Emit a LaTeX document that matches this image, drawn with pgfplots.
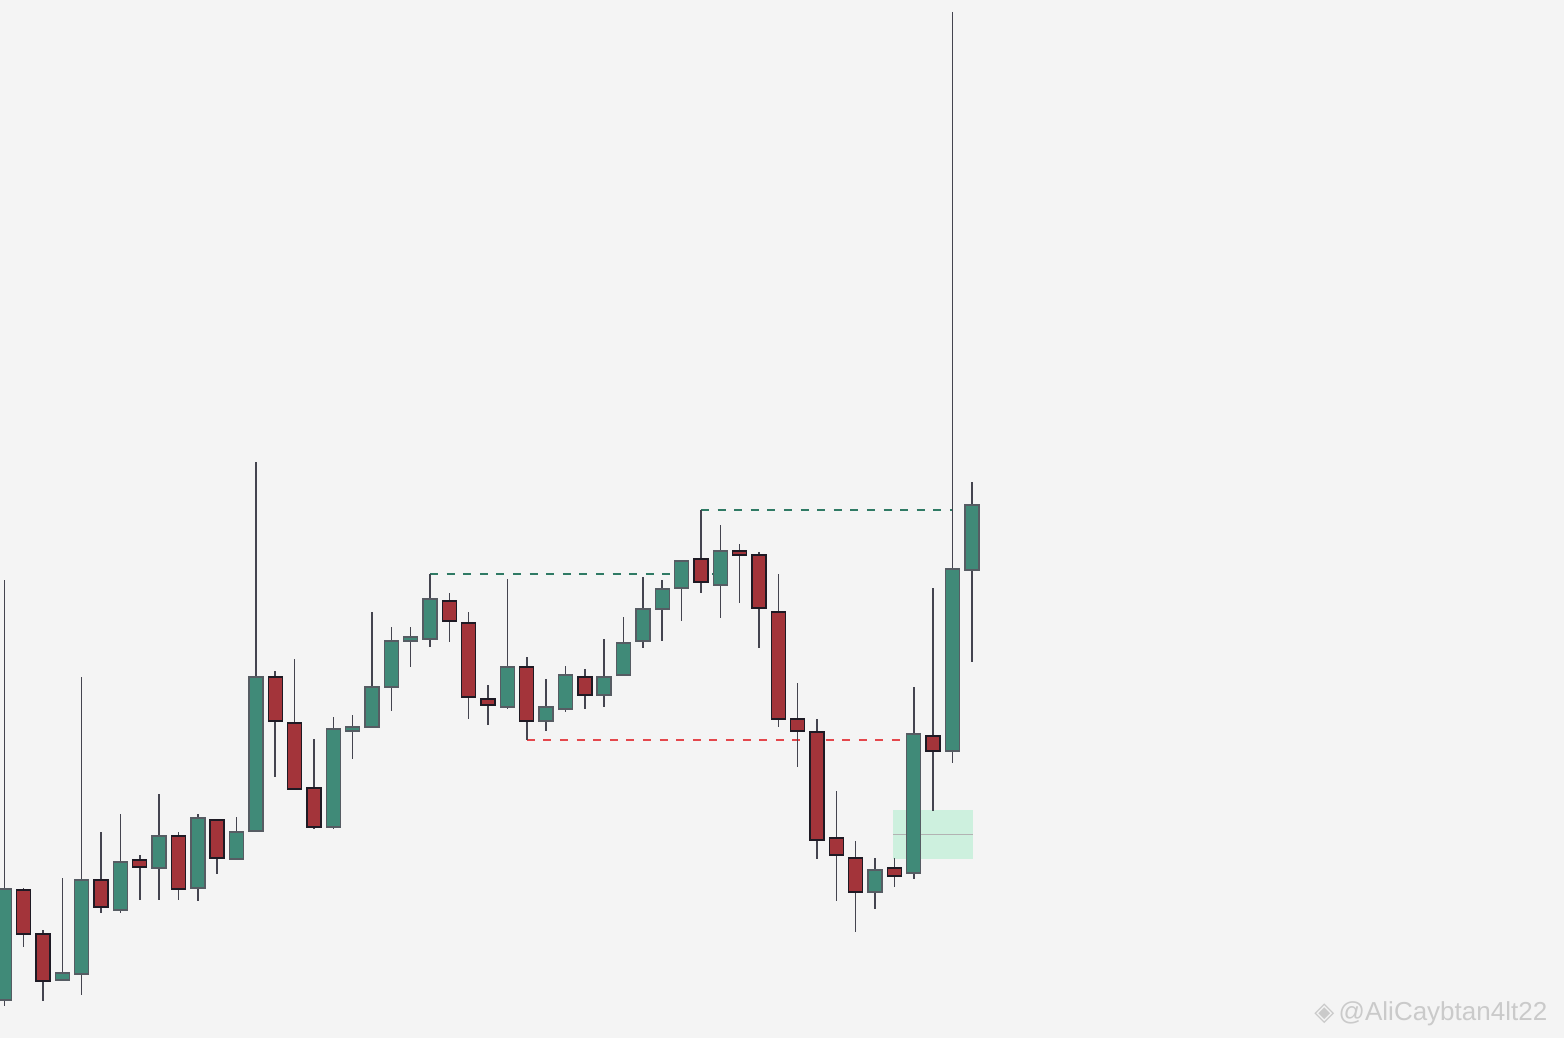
\documentclass[border=0pt]{standalone}
\usepackage{pgfplots}
\pgfplotsset{compat=1.18}
\usepackage{fontspec}
\setmainfont{Liberation Sans}
\newfontfamily\djv{DejaVu Sans}
\definecolor{bgc}{HTML}{F4F4F4}
\definecolor{gfill}{HTML}{408A78}
\definecolor{rfill}{HTML}{A3343A}
\definecolor{gedge}{HTML}{565C63}
\definecolor{redge}{HTML}{1E1A24}
\definecolor{wickc}{HTML}{44444F}
\definecolor{gdash}{HTML}{2F7A64}
\definecolor{rdash}{HTML}{E4474C}
\definecolor{zone}{HTML}{CDF0DE}
\definecolor{wm}{HTML}{CACACA}
\pgfplotsset{
  wick/.style={draw=wickc, line width=0.75pt, no markers},
  bodyg/.style={fill=gfill, draw=gedge, line width=0.7pt, no markers},
  bodyr/.style={fill=rfill, draw=redge, line width=0.7pt, no markers},
}
% x high low top bottom g/r
\newcommand\candle[6]{%
  \pgfmathsetmacro\xa{#1-7}\pgfmathsetmacro\xb{#1+7}%
  \edef\tmp{\noexpand\addplot[wick] coordinates {(#1,#2)(#1,#3)};
    \noexpand\addplot[body#6] coordinates {(\xa,#4)(\xb,#4)(\xb,#5)(\xa,#5)} -- cycle;}%
  \tmp}
\begin{document}
\begin{tikzpicture}
\fill[bgc] (0,0) rectangle (782pt,519pt);
\begin{axis}[
  at={(0,0)}, anchor=south west,
  width=782pt, height=519pt, scale only axis,
  xmin=0, xmax=1564, ymin=0, ymax=1038, y dir=reverse,
  hide axis, clip=true,
]
% demand zone
\addplot[fill=zone, draw=none, no markers] coordinates {(893,810)(973,810)(973,859)(893,859)} -- cycle;
\addplot[draw=black!30, line width=0.45pt, no markers] coordinates {(893,834)(973,834)};
% dashed levels
\addplot[draw=gdash, line width=0.6pt, dash pattern=on 4pt off 4.3pt, no markers] coordinates {(430,574)(720,574)};
\addplot[draw=gdash, line width=0.6pt, dash pattern=on 4pt off 4.3pt, no markers] coordinates {(700.9,510)(952.45,510)};
\addplot[draw=rdash, line width=0.6pt, dash pattern=on 4pt off 4.3pt, no markers] coordinates {(526.75,740)(933,740)};
% candles
\candle{4.3}{580}{1006}{889}{1000}{g}
\candle{23.65}{888}{947}{890}{934}{r}
\candle{43.0}{930}{1001}{934}{981}{r}
\candle{62.35}{878}{980}{973}{980}{g}
\candle{81.7}{677}{995}{880}{974}{g}
\candle{101.05}{832}{913}{880}{907}{r}
\candle{120.4}{814}{913}{862}{910}{g}
\candle{139.75}{855}{900}{860}{867}{r}
\candle{159.1}{794}{900}{836}{868}{g}
\candle{178.45}{832}{900}{836}{889}{r}
\candle{197.8}{814}{901}{818}{888}{g}
\candle{217.15}{820}{874}{820}{858}{r}
\candle{236.5}{817}{859}{832}{859}{g}
\candle{255.85}{462}{831}{677}{831}{g}
\candle{275.2}{671}{777}{677}{721}{r}
\candle{294.55}{659}{789}{723}{789}{r}
\candle{313.9}{739}{829}{788}{827}{r}
\candle{333.25}{717}{829}{729}{827}{g}
\candle{352.6}{715}{759}{727}{731}{g}
\candle{371.95}{612}{727}{687}{727}{g}
\candle{391.3}{627}{711}{641}{687}{g}
\candle{410.65}{627}{667}{637}{641}{g}
\candle{430.0}{574}{647}{599}{639}{g}
\candle{449.35}{593}{642}{601}{621}{r}
\candle{468.7}{612}{719}{623}{697}{r}
\candle{488.05}{685}{725}{699}{705}{r}
\candle{507.4}{579}{709}{667}{707}{g}
\candle{526.75}{657}{740}{667}{721}{r}
\candle{546.1}{679}{731}{707}{721}{g}
\candle{565.45}{666}{712}{675}{709}{g}
\candle{584.8}{669}{709}{677}{695}{r}
\candle{604.15}{639}{707}{677}{695}{g}
\candle{623.5}{617}{675}{643}{675}{g}
\candle{642.85}{577}{648}{609}{641}{g}
\candle{662.2}{580}{641}{589}{609}{g}
\candle{681.55}{561}{621}{561}{588}{g}
\candle{700.9}{510}{593}{559}{582}{r}
\candle{720.25}{525}{618}{551}{585}{g}
\candle{739.6}{544}{603}{551}{555}{r}
\candle{758.95}{552}{648}{555}{608}{r}
\candle{778.3}{574}{727}{612}{719}{r}
\candle{797.65}{683}{767}{719}{731}{r}
\candle{817.0}{719}{859}{732}{840}{r}
\candle{836.35}{791}{901}{838}{855}{r}
\candle{855.7}{841}{932}{858}{892}{r}
\candle{875.05}{858}{909}{870}{892}{g}
\candle{894.4}{858}{887}{868}{876}{r}
\candle{913.75}{687}{879}{734}{873}{g}
\candle{933.1}{588}{811}{736}{751}{r}
\candle{952.45}{12}{763}{569}{751}{g}
\candle{971.8}{482}{662}{505}{570}{g}
% watermark
\node[anchor=west, text=wm, font=\fontsize{13pt}{14pt}\selectfont, inner sep=0pt] at (axis cs:1314,1014) {{\djv ◈}\,@AliCaybtan4lt22};
\end{axis}
\end{tikzpicture}
\end{document}
